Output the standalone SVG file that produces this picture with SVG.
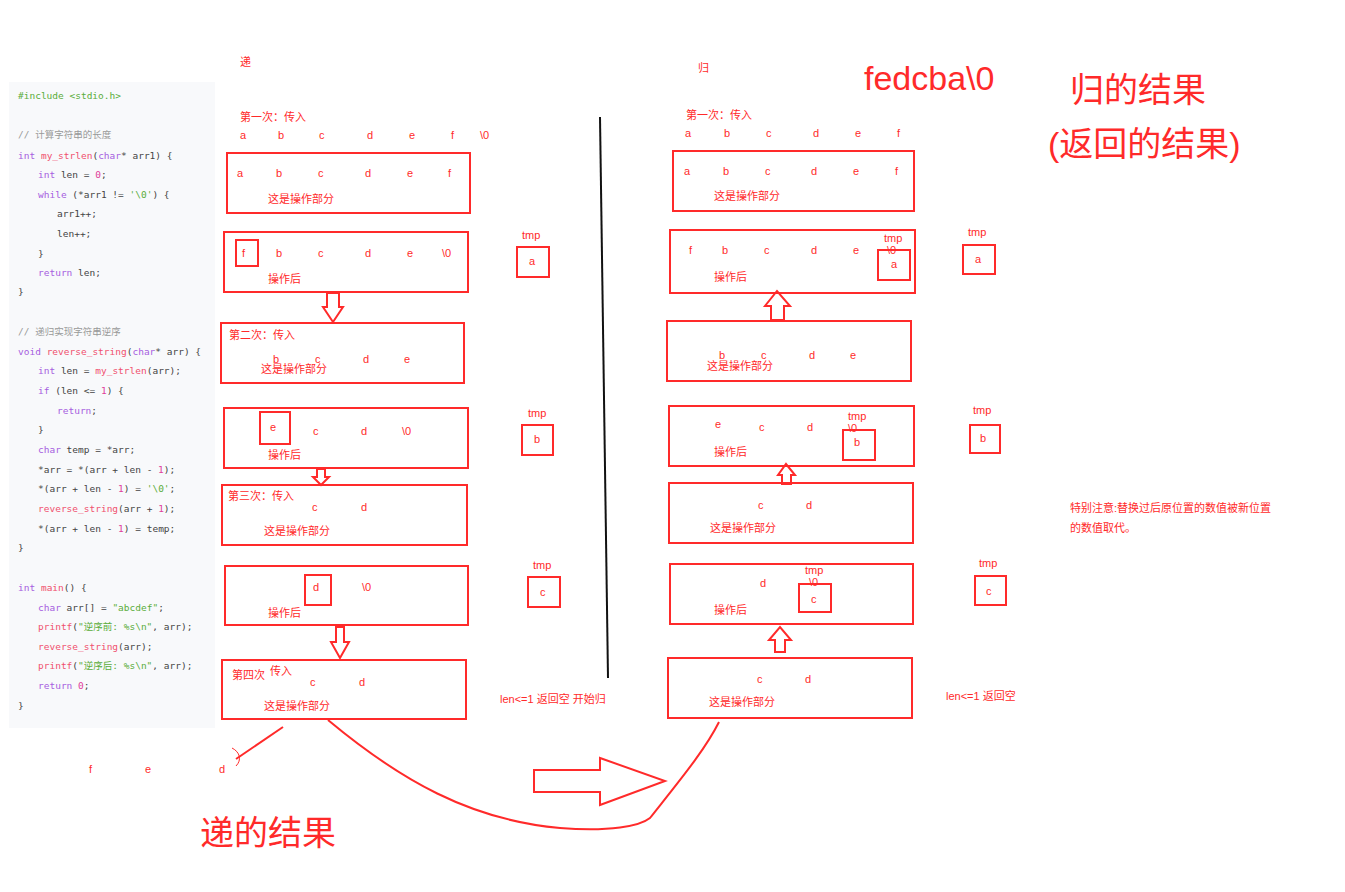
<svg xmlns="http://www.w3.org/2000/svg" width="1345" height="892" viewBox="0 0 1345 892">
<style>
.t{font-family:"Liberation Sans","Noto Sans CJK SC",sans-serif;font-size:11px;fill:#ff2a2a}
.b{fill:none;stroke:#ff2a2a;stroke-width:2}
.c{font-family:"DejaVu Sans Mono","Noto Sans CJK SC",monospace;font-size:9.5px;fill:#444}
.k{fill:#a65ee0}.f{fill:#f0506e}.s{fill:#5aad3a}.n{fill:#e0409a}.g{fill:#999}
.big{font-family:"Liberation Sans","Noto Sans CJK SC",sans-serif;font-size:34px;fill:#ff2a2a}
</style>
<rect width="1345" height="892" fill="#fff"/>
<g id="code">
<rect x="9" y="82" width="206" height="646" fill="#f8f9fb"/>
<text class="c" x="18" y="99"><tspan class="s">#include &lt;stdio.h&gt;</tspan></text>
<text class="c g" x="18" y="138">// 计算字符串的长度</text>
<text class="c" x="18" y="159"><tspan class="k">int</tspan> <tspan class="f">my_strlen</tspan>(<tspan class="k">char</tspan>* arr1) {</text>
<text class="c" x="38" y="178"><tspan class="k">int</tspan> len = <tspan class="n">0</tspan>;</text>
<text class="c" x="38" y="198"><tspan class="k">while</tspan> (*arr1 != <tspan class="s">'\0'</tspan>) {</text>
<text class="c" x="57" y="217">arr1++;</text>
<text class="c" x="57" y="237">len++;</text>
<text class="c" x="38" y="257">}</text>
<text class="c" x="38" y="276"><tspan class="k">return</tspan> len;</text>
<text class="c" x="18" y="295">}</text>
<text class="c g" x="18" y="335">// 递归实现字符串逆序</text>
<text class="c" x="18" y="355"><tspan class="k">void</tspan> <tspan class="f">reverse_string</tspan>(<tspan class="k">char</tspan>* arr) {</text>
<text class="c" x="38" y="374"><tspan class="k">int</tspan> len = <tspan class="f">my_strlen</tspan>(arr);</text>
<text class="c" x="38" y="394"><tspan class="k">if</tspan> (len &lt;= <tspan class="n">1</tspan>) {</text>
<text class="c" x="57" y="414"><tspan class="k">return</tspan>;</text>
<text class="c" x="38" y="433">}</text>
<text class="c" x="38" y="453"><tspan class="k">char</tspan> temp = *arr;</text>
<text class="c" x="38" y="473">*arr = *(arr + len - <tspan class="n">1</tspan>);</text>
<text class="c" x="38" y="492">*(arr + len - <tspan class="n">1</tspan>) = <tspan class="s">'\0'</tspan>;</text>
<text class="c" x="38" y="512"><tspan class="f">reverse_string</tspan>(arr + <tspan class="n">1</tspan>);</text>
<text class="c" x="38" y="532">*(arr + len - <tspan class="n">1</tspan>) = temp;</text>
<text class="c" x="18" y="551">}</text>
<text class="c" x="18" y="591"><tspan class="k">int</tspan> <tspan class="f">main</tspan>() {</text>
<text class="c" x="38" y="611"><tspan class="k">char</tspan> arr[] = <tspan class="s">"abcdef"</tspan>;</text>
<text class="c" x="38" y="630"><tspan class="f">printf</tspan>(<tspan class="s">"逆序前: %s\n"</tspan>, arr);</text>
<text class="c" x="38" y="650"><tspan class="f">reverse_string</tspan>(arr);</text>
<text class="c" x="38" y="669"><tspan class="f">printf</tspan>(<tspan class="s">"逆序后: %s\n"</tspan>, arr);</text>
<text class="c" x="38" y="689"><tspan class="k">return</tspan> <tspan class="n">0</tspan>;</text>
<text class="c" x="18" y="709">}</text>
</g>
<g id="titles">
<text class="t" x="240" y="66">递</text>
<text class="t" x="698" y="72">归</text>
<text class="big" x="864" y="90">fedcba\0</text>
<text class="big" x="1070" y="102">归的结果</text>
<text class="big" x="1048" y="156">(返回的结果)</text>
<text class="big" x="200" y="845">递的结果</text>
<text class="t" x="1070" y="512">特别注意:替换过后原位置的数值被新位置</text>
<text class="t" x="1070" y="532">的数值取代。</text>
<text class="t" x="500" y="703">len&lt;=1    返回空    开始归</text>
<text class="t" x="946" y="700">len&lt;=1    返回空</text>
<text class="t" x="89" y="773">f</text><text class="t" x="145" y="773">e</text><text class="t" x="219" y="773">d</text>
</g>
<g id="left">
<text class="t" x="240" y="121">第一次：传入</text>
<text class="t" x="240" y="139">a</text><text class="t" x="278" y="139">b</text><text class="t" x="319" y="139">c</text><text class="t" x="367" y="139">d</text><text class="t" x="409" y="139">e</text><text class="t" x="451" y="139">f</text><text class="t" x="480" y="139">\0</text>
<rect class="b" x="227" y="153" width="243" height="60"/>
<text class="t" x="237" y="177">a</text><text class="t" x="276" y="177">b</text><text class="t" x="318" y="177">c</text><text class="t" x="365" y="177">d</text><text class="t" x="407" y="177">e</text><text class="t" x="448" y="177">f</text>
<text class="t" x="268" y="203">这是操作部分</text>
<rect class="b" x="224" y="232" width="244" height="60"/>
<rect class="b" x="236" y="240" width="22" height="26"/>
<text class="t" x="242" y="257">f</text><text class="t" x="276" y="257">b</text><text class="t" x="318" y="257">c</text><text class="t" x="365" y="257">d</text><text class="t" x="407" y="257">e</text><text class="t" x="442" y="257">\0</text>
<text class="t" x="268" y="283">操作后</text>
<text class="t" x="522" y="239">tmp</text><rect class="b" x="517" y="247" width="32" height="30"/><text class="t" x="529" y="265">a</text>
<rect class="b" x="221" y="323" width="243" height="60"/>
<text class="t" x="229" y="339">第二次：传入</text>
<text class="t" x="273" y="363">b</text><text class="t" x="315" y="363">c</text><text class="t" x="363" y="363">d</text><text class="t" x="404" y="363">e</text>
<text class="t" x="261" y="373">这是操作部分</text>
<rect class="b" x="224" y="408" width="244" height="60"/>
<rect class="b" x="260" y="412" width="30" height="32"/>
<text class="t" x="270" y="431">e</text><text class="t" x="313" y="435">c</text><text class="t" x="361" y="435">d</text><text class="t" x="402" y="435">\0</text>
<text class="t" x="268" y="459">操作后</text>
<text class="t" x="528" y="417">tmp</text><rect class="b" x="522" y="425" width="31" height="30"/><text class="t" x="534" y="443">b</text>
<rect class="b" x="222" y="485" width="245" height="60"/>
<text class="t" x="228" y="500">第三次：传入</text>
<text class="t" x="312" y="511">c</text><text class="t" x="361" y="511">d</text>
<text class="t" x="264" y="535">这是操作部分</text>
<rect class="b" x="225" y="566" width="243" height="59"/>
<rect class="b" x="305" y="575" width="26" height="30"/>
<text class="t" x="313" y="591">d</text><text class="t" x="362" y="591">\0</text>
<text class="t" x="268" y="617">操作后</text>
<text class="t" x="533" y="569">tmp</text><rect class="b" x="528" y="577" width="32" height="30"/><text class="t" x="540" y="596">c</text>
<rect class="b" x="222" y="660" width="244" height="59"/>
<text class="t" x="232" y="679">第四次</text><text class="t" x="270" y="675">传入</text>
<text class="t" x="310" y="686">c</text><text class="t" x="359" y="686">d</text>
<text class="t" x="264" y="710">这是操作部分</text>
</g>
<g id="right">
<text class="t" x="686" y="119">第一次：传入</text>
<text class="t" x="685" y="137">a</text><text class="t" x="724" y="137">b</text><text class="t" x="766" y="137">c</text><text class="t" x="813" y="137">d</text><text class="t" x="855" y="137">e</text><text class="t" x="897" y="137">f</text>
<rect class="b" x="673" y="151" width="241" height="60"/>
<text class="t" x="684" y="175">a</text><text class="t" x="723" y="175">b</text><text class="t" x="765" y="175">c</text><text class="t" x="811" y="175">d</text><text class="t" x="853" y="175">e</text><text class="t" x="895" y="175">f</text>
<text class="t" x="714" y="200">这是操作部分</text>
<rect class="b" x="670" y="230" width="245" height="63"/>
<text class="t" x="689" y="254">f</text><text class="t" x="722" y="254">b</text><text class="t" x="764" y="254">c</text><text class="t" x="811" y="254">d</text><text class="t" x="853" y="254">e</text>
<text class="t" x="884" y="242">tmp</text><text class="t" x="887" y="254">\0</text>
<rect class="b" x="878" y="250" width="32" height="30"/><text class="t" x="891" y="268">a</text>
<text class="t" x="714" y="281">操作后</text>
<text class="t" x="968" y="236">tmp</text><rect class="b" x="963" y="245" width="32" height="29"/><text class="t" x="975" y="263">a</text>
<rect class="b" x="667" y="321" width="244" height="60"/>
<text class="t" x="719" y="359">b</text><text class="t" x="761" y="359">c</text><text class="t" x="809" y="359">d</text><text class="t" x="850" y="359">e</text>
<text class="t" x="707" y="370">这是操作部分</text>
<rect class="b" x="669" y="406" width="245" height="60"/>
<text class="t" x="715" y="428">e</text><text class="t" x="759" y="431">c</text><text class="t" x="807" y="431">d</text>
<text class="t" x="848" y="420">tmp</text><text class="t" x="848" y="432">\0</text>
<rect class="b" x="843" y="430" width="32" height="30"/><text class="t" x="854" y="446">b</text>
<text class="t" x="714" y="456">操作后</text>
<text class="t" x="973" y="414">tmp</text><rect class="b" x="970" y="425" width="30" height="28"/><text class="t" x="980" y="442">b</text>
<rect class="b" x="669" y="483" width="244" height="60"/>
<text class="t" x="758" y="509">c</text><text class="t" x="806" y="509">d</text>
<text class="t" x="710" y="532">这是操作部分</text>
<rect class="b" x="670" y="564" width="243" height="60"/>
<text class="t" x="760" y="587">d</text>
<text class="t" x="805" y="574">tmp</text><text class="t" x="809" y="586">\0</text>
<rect class="b" x="799" y="584" width="32" height="28"/><text class="t" x="811" y="603">c</text>
<text class="t" x="714" y="614">操作后</text>
<text class="t" x="979" y="567">tmp</text><rect class="b" x="975" y="576" width="31" height="29"/><text class="t" x="986" y="595">c</text>
<rect class="b" x="668" y="658" width="244" height="60"/>
<text class="t" x="757" y="683">c</text><text class="t" x="805" y="683">d</text>
<text class="t" x="709" y="706">这是操作部分</text>
</g>
<g id="connectors" fill="none" stroke="#ff2a2a" stroke-width="2">
<line x1="600" y1="117" x2="608" y2="678" stroke="#111"/>
<path d="M327,293 H339 V307 H343 L333,322 L323,307 H327 Z"/>
<path d="M317,469 H325 V477 H329 L321,485 L313,477 H317 Z"/>
<path d="M336,627 H344 V642 H349 L340,658 L331,642 H336 Z"/>
<path d="M771,320 H784 V306 H790 L777,291 L765,306 H771 Z"/>
<path d="M782,484 H791 V475 H795 L786,464 L778,475 H782 Z"/>
<path d="M775,652 H785 V640 H791 L780,627 L769,640 H775 Z"/>
<path d="M283,727 L236,759"/>
<path d="M232,748 C240,752 242,760 236,766" stroke-width="1"/>
<path d="M328,720 C400,780 470,820 560,828 C610,832 640,826 650,818 C680,780 705,750 719,722"/>
<path d="M534,770 H600 V758 L665,781 L600,805 V792 H534 Z"/>
</g>
</svg>
